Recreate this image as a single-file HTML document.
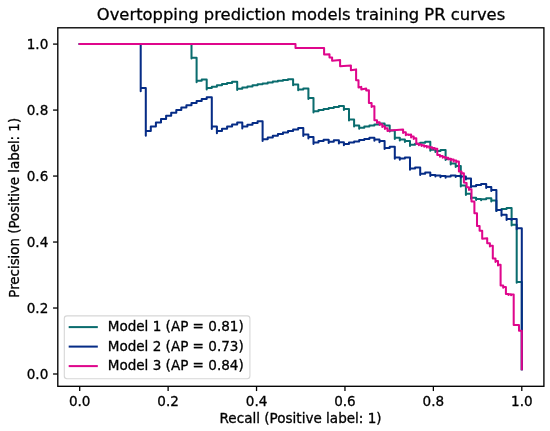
<!DOCTYPE html>
<html><head><meta charset="utf-8"><title>PR curves</title>
<style>
html,body{margin:0;padding:0;background:#fff}
svg text{font-family:"DejaVu Sans","Liberation Sans",sans-serif;fill:#000;stroke:#000;stroke-width:0.3px}
.t{font-size:13.56px}
</style></head><body>
<svg width="550" height="431" viewBox="0 0 550 431" style="display:block"><rect width="550" height="431" fill="#fff"/><path d="M521.8 369.2 L521.8 282.0 L516.7 282.0 L516.7 282.8 L516.7 224.7 L511.6 224.7 L511.6 225.6 L511.6 208.1 L506.6 208.1 L506.6 209.1 L501.5 209.1 L501.5 210.0 L496.4 210.0 L496.4 211.0 L496.4 200.6 L491.3 200.6 L491.3 201.6 L491.3 198.2 L486.2 198.2 L486.2 199.2 L481.1 199.2 L481.1 200.3 L481.1 199.1 L476.1 199.1 L476.1 200.1 L476.1 197.8 L471.0 197.8 L471.0 198.8 L471.0 193.8 L465.9 193.8 L465.9 194.9 L465.9 185.5 L460.8 185.5 L460.8 186.6 L460.8 166.1 L455.7 166.1 L455.7 167.1 L455.7 163.5 L450.7 163.5 L450.7 164.6 L450.7 159.0 L445.6 159.0 L445.6 160.0 L445.6 149.9 L440.5 149.9 L440.5 150.9 L435.4 150.9 L435.4 152.0 L435.4 149.8 L430.3 149.8 L430.3 150.8 L430.3 141.7 L425.2 141.7 L425.2 142.7 L420.2 142.7 L420.2 143.8 L415.1 143.8 L415.1 144.8 L410.0 144.8 L410.0 145.9 L410.0 140.9 L404.9 140.9 L404.9 142.0 L404.9 139.4 L399.8 139.4 L399.8 140.5 L399.8 137.8 L394.8 137.8 L394.8 138.9 L394.8 130.5 L389.7 130.5 L389.7 131.5 L389.7 125.6 L384.6 125.6 L384.6 126.6 L384.6 123.4 L379.5 123.4 L379.5 124.5 L374.4 124.5 L374.4 125.5 L369.4 125.5 L369.4 126.6 L364.3 126.6 L364.3 127.7 L359.2 127.7 L359.2 128.8 L359.2 125.4 L354.1 125.4 L354.1 126.6 L354.1 119.5 L349.0 119.5 L349.0 120.6 L349.0 109.1 L343.9 109.1 L343.9 110.1 L343.9 106.0 L338.9 106.0 L338.9 106.9 L333.8 106.9 L333.8 108.0 L328.7 108.0 L328.7 109.0 L323.6 109.0 L323.6 110.1 L318.5 110.1 L318.5 111.2 L313.5 111.2 L313.5 112.4 L313.5 98.1 L308.4 98.1 L308.4 99.1 L308.4 88.5 L303.3 88.5 L303.3 89.4 L298.2 89.4 L298.2 90.3 L298.2 84.5 L293.1 84.5 L293.1 85.3 L293.1 79.2 L288.0 79.2 L288.0 80.0 L283.0 80.0 L283.0 80.8 L277.9 80.8 L277.9 81.6 L272.8 81.6 L272.8 82.5 L267.7 82.5 L267.7 83.4 L262.6 83.4 L262.6 84.3 L257.6 84.3 L257.6 85.3 L252.5 85.3 L252.5 86.4 L247.4 86.4 L247.4 87.5 L242.3 87.5 L242.3 88.7 L237.2 88.7 L237.2 89.9 L237.2 81.8 L232.1 81.8 L232.1 82.9 L227.1 82.9 L227.1 84.1 L222.0 84.1 L222.0 85.3 L216.9 85.3 L216.9 86.7 L211.8 86.7 L211.8 88.1 L206.7 88.1 L206.7 89.6 L206.7 79.4 L201.7 79.4 L201.7 80.8 L196.6 80.8 L196.6 82.2 L196.6 57.8 L191.5 57.8 L191.5 58.4 L191.5 44.1 L186.4 44.1 L181.3 44.1 L176.3 44.1 L171.2 44.1 L166.1 44.1 L161.0 44.1 L155.9 44.1 L150.8 44.1 L145.8 44.1 L140.7 44.1 L135.6 44.1 L130.5 44.1 L125.4 44.1 L120.4 44.1 L115.3 44.1 L110.2 44.1 L105.1 44.1 L100.0 44.1 L94.9 44.1 L89.9 44.1 L84.8 44.1 L79.7 44.1" fill="none" stroke="#0a6c6e" stroke-width="2.03" stroke-linejoin="round" stroke-linecap="square"/><path d="M521.8 369.2 L521.8 228.3 L516.7 228.3 L516.7 229.2 L516.7 219.0 L511.6 219.0 L511.6 219.9 L511.6 219.1 L506.6 219.1 L506.6 220.0 L506.6 214.7 L501.5 214.7 L501.5 215.7 L501.5 210.0 L496.4 210.0 L496.4 211.0 L496.4 190.0 L491.3 190.0 L491.3 191.0 L491.3 187.1 L486.2 187.1 L486.2 188.1 L486.2 184.1 L481.1 184.1 L481.1 185.1 L476.1 185.1 L476.1 186.2 L471.0 186.2 L471.0 187.2 L471.0 178.6 L465.9 178.6 L465.9 179.6 L465.9 176.6 L460.8 176.6 L460.8 177.6 L460.8 176.1 L455.7 176.1 L455.7 177.1 L455.7 175.5 L450.7 175.5 L450.7 176.6 L445.6 176.6 L445.6 177.7 L445.6 176.1 L440.5 176.1 L440.5 177.2 L440.5 175.5 L435.4 175.5 L435.4 176.6 L435.4 174.9 L430.3 174.9 L430.3 176.1 L430.3 172.6 L425.2 172.6 L425.2 173.7 L420.2 173.7 L420.2 174.9 L420.2 167.4 L415.1 167.4 L415.1 168.6 L410.0 168.6 L410.0 169.8 L410.0 157.4 L404.9 157.4 L404.9 158.6 L399.8 158.6 L399.8 159.7 L399.8 157.5 L394.8 157.5 L394.8 158.7 L394.8 146.7 L389.7 146.7 L389.7 147.9 L384.6 147.9 L384.6 149.1 L384.6 141.1 L379.5 141.1 L379.5 142.3 L379.5 139.5 L374.4 139.5 L374.4 140.7 L374.4 137.8 L369.4 137.8 L369.4 138.9 L364.3 138.9 L364.3 140.1 L359.2 140.1 L359.2 141.4 L354.1 141.4 L354.1 142.6 L349.0 142.6 L349.0 143.9 L343.9 143.9 L343.9 145.3 L343.9 142.2 L338.9 142.2 L338.9 143.5 L338.9 140.3 L333.8 140.3 L333.8 141.7 L328.7 141.7 L328.7 143.1 L328.7 139.7 L323.6 139.7 L323.6 141.1 L318.5 141.1 L318.5 142.6 L313.5 142.6 L313.5 144.1 L313.5 136.9 L308.4 136.9 L308.4 138.4 L308.4 134.6 L303.3 134.6 L303.3 136.0 L303.3 128.0 L298.2 128.0 L298.2 129.4 L293.1 129.4 L293.1 130.9 L288.0 130.9 L288.0 132.5 L283.0 132.5 L283.0 134.1 L277.9 134.1 L277.9 135.7 L272.8 135.7 L272.8 137.5 L267.7 137.5 L267.7 139.3 L262.6 139.3 L262.6 141.1 L262.6 121.3 L257.6 121.3 L257.6 123.0 L252.5 123.0 L252.5 124.7 L247.4 124.7 L247.4 126.6 L242.3 126.6 L242.3 128.5 L242.3 122.6 L237.2 122.6 L237.2 124.6 L232.1 124.6 L232.1 126.6 L227.1 126.6 L227.1 128.7 L222.0 128.7 L222.0 130.9 L216.9 130.9 L216.9 133.3 L216.9 126.6 L211.8 126.6 L211.8 128.9 L211.8 97.3 L206.7 97.3 L206.7 99.1 L201.7 99.1 L201.7 101.0 L196.6 101.0 L196.6 103.0 L191.5 103.0 L191.5 105.2 L186.4 105.2 L186.4 107.5 L181.3 107.5 L181.3 110.1 L176.3 110.1 L176.3 112.8 L171.2 112.8 L171.2 115.8 L166.1 115.8 L166.1 119.1 L161.0 119.1 L161.0 122.6 L155.9 122.6 L155.9 126.6 L150.8 126.6 L150.8 130.9 L145.8 130.9 L145.8 135.7 L145.8 88.1 L140.7 88.1 L140.7 91.2 L140.7 44.1 L135.6 44.1 L130.5 44.1 L125.4 44.1 L120.4 44.1 L115.3 44.1 L110.2 44.1 L105.1 44.1 L100.0 44.1 L94.9 44.1 L89.9 44.1 L84.8 44.1 L79.7 44.1" fill="none" stroke="#062c86" stroke-width="2.03" stroke-linejoin="round" stroke-linecap="square"/><path d="M79.7 44.0 L295.5 44.0 L295.5 48.1 L324.1 47.9 L324.1 54.5 L329.5 54.2 L329.5 57.5 L332.1 57.4 L332.1 60.7 L340.1 60.0 L340.1 66.2 L350.9 65.4 L350.9 70.3 L356.1 69.4 L356.1 80.3 L358.5 80.2 L358.5 87.5 L361.3 86.9 L361.3 89.4 L366.2 88.6 L366.2 90.5 L368.9 90.2 L368.9 103.0 L371.6 103.0 L371.6 107.1 L371.6 106.3 L374.4 106.3 L374.4 120.3 L377.0 120.3 L377.0 123.1 L377.0 122.3 L379.7 122.3 L379.7 125.1 L379.7 124.3 L382.3 124.3 L382.3 127.1 L382.3 126.3 L384.9 126.3 L384.9 129.1 L384.9 128.3 L387.5 128.3 L387.5 131.0 L390.1 130.6 L390.1 130.4 L403.1 129.4 L403.1 133.1 L403.1 132.3 L405.8 132.3 L405.8 135.2 L405.8 134.4 L408.5 134.4 L408.5 134.9 L411.1 134.5 L411.1 137.4 L411.1 136.6 L413.7 136.6 L413.7 139.1 L413.7 138.3 L416.3 138.3 L416.3 143.8 L418.9 143.8 L418.9 145.3 L418.9 144.5 L421.6 144.5 L421.6 146.0 L421.6 145.2 L424.2 145.2 L424.2 146.7 L424.2 145.9 L426.8 145.9 L426.8 147.4 L426.8 146.6 L429.4 146.6 L429.4 148.1 L429.4 147.3 L432.1 147.3 L432.1 148.8 L432.1 148.0 L434.7 148.0 L434.7 149.5 L434.7 148.7 L437.3 148.7 L437.3 155.0 L440.0 155.0 L440.0 156.7 L440.0 155.9 L442.7 155.9 L442.7 157.7 L442.7 156.9 L445.4 156.9 L445.4 158.6 L445.4 157.8 L448.2 157.8 L448.2 159.5 L448.2 158.7 L450.9 158.7 L450.9 160.4 L450.9 159.6 L453.6 159.6 L453.6 161.4 L453.6 160.6 L456.3 160.6 L456.3 162.3 L456.3 161.5 L458.9 161.5 L458.9 171.4 L461.5 171.4 L461.5 174.0 L461.5 173.2 L463.9 173.2 L463.9 182.5 L466.6 182.9 L466.6 187.2 L469.0 187.2 L469.0 190.1 L469.0 189.3 L471.5 189.3 L471.5 201.5 L474.4 201.5 L474.4 213.2 L477.0 213.2 L477.0 226.0 L479.6 226.0 L479.6 230.7 L482.2 230.7 L482.2 238.7 L487.2 238.2 L487.2 243.2 L489.9 243.2 L489.9 246.5 L489.9 245.7 L492.8 245.7 L492.8 258.5 L495.5 258.5 L495.5 261.9 L495.5 261.1 L498.0 261.1 L498.0 265.5 L498.0 264.7 L500.6 264.7 L500.6 285.5 L503.2 285.5 L503.2 287.8 L503.2 287.0 L505.9 287.0 L505.9 293.9 L508.5 293.9 L508.5 295.0 L508.5 294.2 L511.1 294.2 L511.1 295.3 L511.1 294.5 L513.7 294.5 L513.7 325.1 L519.0 325.1 L519.0 330.8 L521.8 330.8 L521.8 369.2" fill="none" stroke="#df068c" stroke-width="2.03" stroke-linejoin="round" stroke-linecap="square"/><rect x="57.8" y="27.8" width="486.09999999999997" height="358.5" fill="none" stroke="#000" stroke-width="1.35"/><line x1="79.70" y1="386.3" x2="79.70" y2="391.05" stroke="#000" stroke-width="1.3"/><text x="79.70" y="405.9" text-anchor="middle" class="t">0.0</text><line x1="57.8" y1="374.00" x2="53.05" y2="374.00" stroke="#000" stroke-width="1.3"/><text x="48.30" y="379.10" text-anchor="end" class="t">0.0</text><line x1="168.12" y1="386.3" x2="168.12" y2="391.05" stroke="#000" stroke-width="1.3"/><text x="168.12" y="405.9" text-anchor="middle" class="t">0.2</text><line x1="57.8" y1="308.02" x2="53.05" y2="308.02" stroke="#000" stroke-width="1.3"/><text x="48.30" y="313.12" text-anchor="end" class="t">0.2</text><line x1="256.54" y1="386.3" x2="256.54" y2="391.05" stroke="#000" stroke-width="1.3"/><text x="256.54" y="405.9" text-anchor="middle" class="t">0.4</text><line x1="57.8" y1="242.04" x2="53.05" y2="242.04" stroke="#000" stroke-width="1.3"/><text x="48.30" y="247.14" text-anchor="end" class="t">0.4</text><line x1="344.96" y1="386.3" x2="344.96" y2="391.05" stroke="#000" stroke-width="1.3"/><text x="344.96" y="405.9" text-anchor="middle" class="t">0.6</text><line x1="57.8" y1="176.06" x2="53.05" y2="176.06" stroke="#000" stroke-width="1.3"/><text x="48.30" y="181.16" text-anchor="end" class="t">0.6</text><line x1="433.38" y1="386.3" x2="433.38" y2="391.05" stroke="#000" stroke-width="1.3"/><text x="433.38" y="405.9" text-anchor="middle" class="t">0.8</text><line x1="57.8" y1="110.08" x2="53.05" y2="110.08" stroke="#000" stroke-width="1.3"/><text x="48.30" y="115.18" text-anchor="end" class="t">0.8</text><line x1="521.80" y1="386.3" x2="521.80" y2="391.05" stroke="#000" stroke-width="1.3"/><text x="521.80" y="405.9" text-anchor="middle" class="t">1.0</text><line x1="57.8" y1="44.10" x2="53.05" y2="44.10" stroke="#000" stroke-width="1.3"/><text x="48.30" y="49.20" text-anchor="end" class="t">1.0</text><text x="301" y="19.6" text-anchor="middle" style="font-size:16.37px">Overtopping prediction models training PR curves</text><text x="300.6" y="423.1" text-anchor="middle" class="t">Recall (Positive label: 1)</text><text transform="translate(18.9 207.8) rotate(-90)" text-anchor="middle" class="t" style="font-size:13.38px">Precision (Positive label: 1)</text><rect x="64.3" y="315.9" width="185.6" height="62.8" rx="2.7" fill="#fff" fill-opacity="0.8" stroke="#ccc" stroke-opacity="0.8" stroke-width="1.08"/><line x1="69.7" y1="327.1" x2="96.80000000000001" y2="327.1" stroke="#0a6c6e" stroke-width="2.03" stroke-linecap="square"/><text x="107.7" y="331.1" class="t">Model 1 (AP = 0.81)</text><line x1="69.7" y1="346.6" x2="96.80000000000001" y2="346.6" stroke="#062c86" stroke-width="2.03" stroke-linecap="square"/><text x="107.7" y="350.6" class="t">Model 2 (AP = 0.73)</text><line x1="69.7" y1="366.1" x2="96.80000000000001" y2="366.1" stroke="#df068c" stroke-width="2.03" stroke-linecap="square"/><text x="107.7" y="370.1" class="t">Model 3 (AP = 0.84)</text></svg>
</body></html>
